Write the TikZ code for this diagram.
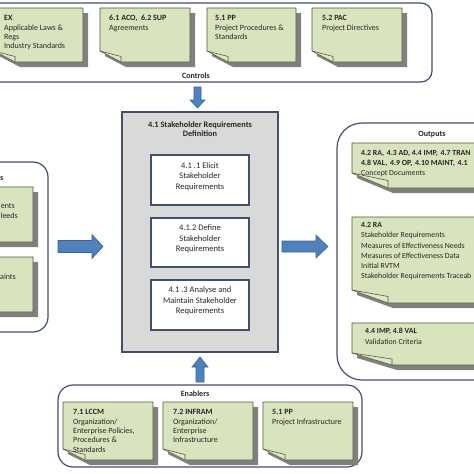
\documentclass[tikz,border=0pt]{standalone}
\usepackage{fontspec}
\setmainfont{Carlito}
\definecolor{notefill}{HTML}{D7E4BD}
\definecolor{notedraw}{HTML}{4F5B3A}
\definecolor{shadowgray}{HTML}{808080}
\definecolor{panelblue}{HTML}{41506B}
\definecolor{boxgray}{HTML}{D9D9D9}
\definecolor{arrowblue}{HTML}{4F81BD}
\definecolor{arrowedge}{HTML}{3A6498}
\definecolor{txt}{HTML}{262626}
\newcommand\stickynote[6]{%
  \fill[shadowgray] ({#1+5},{#2+5}) -- ({#3+5},{#2+5}) -- ({#3+5},{#4+5}) -- ({#1+#5+5},{#4+5}) -- ({#1+5},{#4-#6+5}) -- cycle;
  \fill[notefill] (#1,#2) -- (#3,#2) -- (#3,#4) -- ({#1+#5},#4) -- (#1,{#4-#6}) -- cycle;
  \fill[notefill!80!white] (#1,{#4-#6}) -- ({#1+#5},{#4-#6*0.5}) -- ({#1+#5},#4) -- cycle;
  \draw[notedraw, line width=0.6pt, line join=round] (#1,#2) -- (#3,#2) -- (#3,#4) -- ({#1+#5},#4) -- (#1,{#4-#6}) -- cycle;
  \draw[notedraw, line width=0.6pt, line join=round] (#1,{#4-#6}) -- ({#1+#5},{#4-#6*0.5}) -- ({#1+#5},#4);
}
\newcommand\dsp{\ \hspace{1pt}}
\begin{document}
\begin{tikzpicture}[x=1pt,y=-1pt,
  panel/.style={draw=panelblue, line width=1.2pt, fill=white, inner sep=0pt},
  notetext/.style={anchor=north west, inner sep=0pt, align=left, text=txt, font=\fontsize{8}{9.4}\selectfont},
  outtext/.style={anchor=north west, inner sep=0pt, align=left, text=txt, font=\fontsize{7.8}{10.2}\selectfont},
  paneltitle/.style={inner sep=0pt, text=txt, font=\bfseries\fontsize{8}{9.5}\selectfont},
  fragtext/.style={anchor=base east, inner sep=0pt, text=txt, font=\fontsize{8}{9.4}\selectfont},
  procbox/.style={draw=panelblue, line width=1.5pt, fill=white, inner sep=0pt, minimum width=98pt, minimum height=50pt},
  proctext/.style={inner sep=0pt, align=center, text=txt, font=\fontsize{8.5}{10.3}\selectfont},
  blockarrow/.style={fill=arrowblue, draw=arrowedge, line width=0.6pt, line join=miter}
]
\useasboundingbox (0,0) rectangle (474,474);
\fill[white] (0,0) rectangle (474,474);
\begin{scope}
\clip (0,0) rectangle (474,474);

% ---------- Controls ----------
\node[panel, rounded corners=11pt, minimum width=472pt, minimum height=79pt] (controls) at (196,42.5) {};
\stickynote{-6}{8}{83}{62}{21}{11}
\stickynote{100}{8}{190}{62}{21}{11}
\stickynote{207}{8}{296}{62}{21}{11}
\stickynote{312}{8}{402}{62}{21}{11}
\node[notetext] (ex) at (4,15.3) {\textbf{EX}\\Applicable Laws \&\\Regs\\Industry Standards};
\node[notetext] (aco) at (109,15.3) {\textbf{6.1 ACO,\ \ 6.2 SUP}\\Agreements};
\node[notetext] (ppc) at (215,15.3) {\textbf{5.1 PP}\\Project Procedures \&\\Standards};
\node[notetext] (pac) at (322,15.3) {\textbf{5.2 PAC}\\Project Directives};
\node[paneltitle] (ctitle) at (196,76) {Controls};

% ---------- Inputs (cut) ----------
\node[panel, rounded corners=15pt, minimum width=88pt, minimum height=170pt] (inputs) at (4,247) {};
\stickynote{-56}{187}{33}{242}{21}{11}
\stickynote{-56}{257}{33}{312}{21}{11}
\node[paneltitle, anchor=east] (ititle) at (3.5,179) {s};
\node[fragtext] (in1a) at (15,208.9) {ents};
\node[fragtext] (in1b) at (18,218.2) {leeds};
\node[fragtext] (in2a) at (16,279) {aints};

% ---------- Central process ----------
\node[draw=panelblue, line width=1.6pt, fill=boxgray, inner sep=0pt, minimum width=156pt, minimum height=240pt] (srd) at (200,232) {};
\node[paneltitle, anchor=north, align=center, font=\bfseries\fontsize{8.3}{9.3}\selectfont] (srdtitle) at (200,121.3) {4.1 Stakeholder Requirements\\Definition};
\node[procbox] (b1) at (200,180) {};
\node[procbox, minimum height=49pt] (b2) at (200,242.5) {};
\node[procbox] (b3) at (200,305) {};
\node[proctext] (b1t) at (200,176.7) {4.1 .1 Elicit\\Stakeholder\\Requirements};
\node[proctext] (b2t) at (200,238.9) {4.1.2 Define\\Stakeholder\\Requirements};
\node[proctext] (b3t) at (200,300.9) {4.1 .3 Analyse and\\Maintain Stakeholder\\Requirements};

% ---------- Outputs ----------
\node[panel, rounded corners=25pt, minimum width=183pt, minimum height=257pt] (outputs) at (428.5,251.5) {};
\node[paneltitle] (otitle) at (432,134.5) {Outputs};
\stickynote{352}{143}{520}{188}{36}{15}
\stickynote{352}{217}{520}{303}{36}{13}
\stickynote{352}{323}{520}{365}{40}{12}
\node[outtext] (o1) at (361,150.2) {\textbf{4.2 RA,\dsp 4.3 AD, 4.4 IMP,\dsp 4.7 TRAN}\\\textbf{4.8 VAL,\dsp 4.9 OP,\dsp 4.10 MAINT,\dsp 4.1}\\Concept Documents};
\node[outtext] (o2) at (361,222.3) {\textbf{4.2 RA}\\Stakeholder Requirements\\Measures of Effectiveness Needs\\Measures of Effectiveness Data\\Initial RVTM\\Stakeholder Requirements Traceab};
\node[outtext] (o3) at (365,328.3) {\textbf{4.4 IMP, 4.8 VAL}\\Validation Criteria};

% ---------- Enablers ----------
\node[panel, rounded corners=15pt, minimum width=304pt, minimum height=82pt] (enablers) at (210,426) {};
\node[paneltitle] (etitle) at (195,394) {Enablers};
\stickynote{63}{402}{153}{460}{22}{11}
\stickynote{163}{402}{253}{460}{22}{11}
\stickynote{263}{402}{353}{460}{22}{11}
\node[notetext] (lccm) at (73,409.3) {\textbf{7.1 LCCM}\\Organization/\\Enterprise Policies,\\Procedures \&\\Standards};
\node[notetext] (infram) at (173,409.3) {\textbf{7.2 INFRAM}\\Organization/\\Enterprise\\Infrastructure};
\node[notetext] (ppe) at (272,409.3) {\textbf{5.1 PP}\\Project Infrastructure};

% ---------- Block arrows ----------
\filldraw[blockarrow] (194,87) -- (201,87) -- (201,100) -- (205,100) -- (197.5,108) -- (190,100) -- (194,100) -- cycle;
\filldraw[blockarrow] (196,382) -- (204,382) -- (204,367) -- (208,367) -- (200,357) -- (192,367) -- (196,367) -- cycle;
\filldraw[blockarrow] (58,240.5) -- (92,240.5) -- (92,234.5) -- (103,246.5) -- (92,258.5) -- (92,252.5) -- (58,252.5) -- cycle;
\filldraw[blockarrow] (282,241) -- (316,241) -- (316,235) -- (328,246.5) -- (316,258) -- (316,252) -- (282,252) -- cycle;
\end{scope}
\end{tikzpicture}
\end{document}
